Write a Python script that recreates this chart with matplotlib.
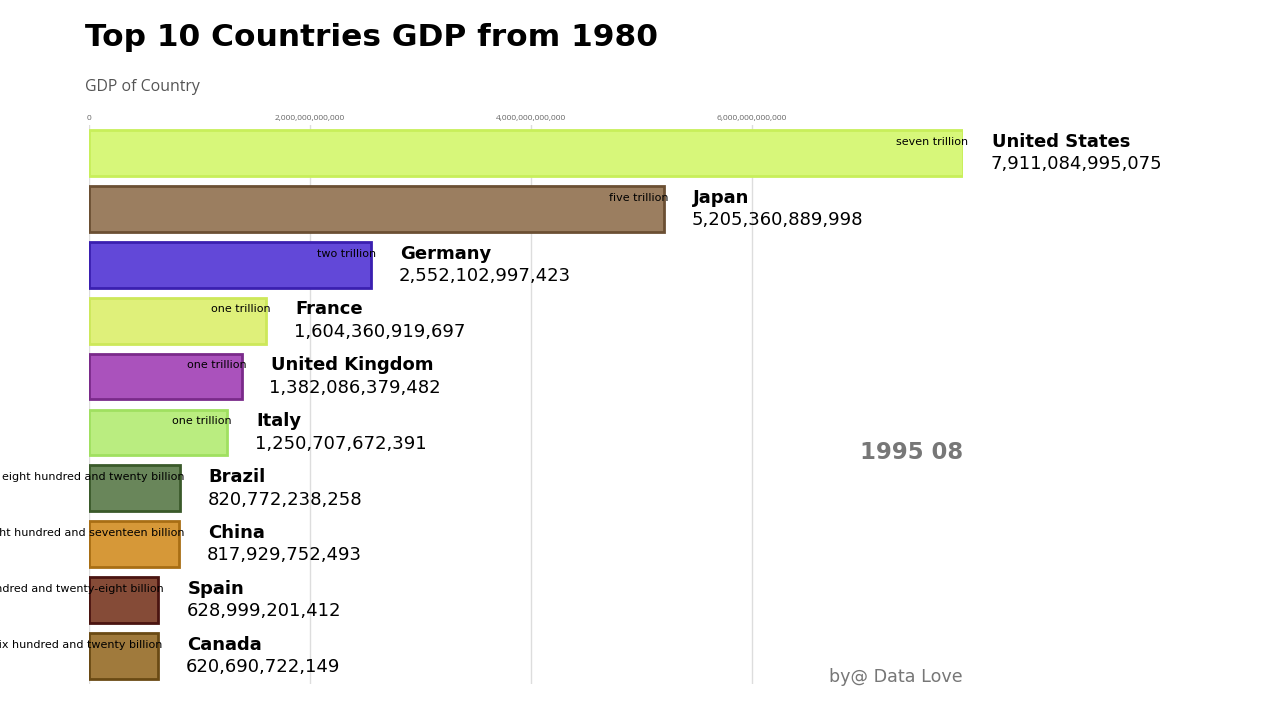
import matplotlib
matplotlib.use('Agg')
import matplotlib.pyplot as plt
import matplotlib.ticker as ticker

# data for the 1995 08 frame
countries = ['United States', 'Japan', 'Germany', 'France', 'United Kingdom',
             'Italy', 'Brazil', 'China', 'Spain', 'Canada']
gdp = [7911084995075, 5205360889998, 2552102997423, 1604360919697, 1382086379482,
       1250707672391, 820772238258, 817929752493, 628999201412, 620690722149]
words = ['seven trillion', 'five trillion', 'two trillion', 'one trillion', 'one trillion',
         'one trillion', 'eight hundred and twenty billion', 'eight hundred and seventeen billion',
         'six hundred and twenty-eight billion', 'six hundred and twenty billion']
fill_colors = ['#d7f77a', '#9b7e60', '#6248d8', '#dff07a', '#aa52bc',
               '#baed80', '#69865a', '#d69838', '#854b37', '#a07a3c']
edge_colors = ['#c8ef5a', '#6b4f33', '#3a1fb0', '#cde85a', '#7a2a8a',
               '#a0e060', '#3a5a2a', '#a86e14', '#4a1410', '#6a4a14']
date_label = '1995 08'
grid_ticks = [0, 2e12, 4e12, 6e12]

fig = plt.figure(figsize=(12.8, 7.2), dpi=100)
ax = fig.add_axes([89 / 1280, 1 - 684 / 720, (963 - 89) / 1280, (684 - 125) / 720])

ypos = list(range(len(countries)))
ax.barh(ypos, gdp, height=0.82, color=fill_colors, edgecolor=edge_colors,
        linewidth=2, zorder=2)
ax.set_xlim(0, max(gdp))
ax.set_ylim(len(countries) - 0.5, -0.5)

for i, (name, val, w) in enumerate(zip(countries, gdp, words)):
    ax.annotate(name, (val, i - 0.2), xytext=(21, 0), textcoords='offset points',
                ha='left', va='center', fontsize=13, fontweight='bold')
    ax.annotate(f'{val:,}', (val, i + 0.2), xytext=(20, 0), textcoords='offset points',
                ha='left', va='center', fontsize=13)
    # word label sits just past the end of the bar (left part may run off the figure)
    ax.annotate(w, (val, i - 0.2), xytext=(3.5, 0), textcoords='offset points',
                ha='right', va='center', fontsize=8, zorder=3)

ax.xaxis.set_ticks_position('top')
ax.set_xticks(grid_ticks)
ax.xaxis.set_major_formatter(ticker.StrMethodFormatter('{x:,.0f}'))
ax.tick_params(axis='x', length=0, labelsize=6, colors='#666666', pad=2)
for lbl in ax.get_xticklabels():
    lbl.set_family('Open Sans')
ax.set_yticks([])
ax.grid(axis='x', color='#dddddd', linewidth=1, zorder=0)
ax.set_axisbelow(True)
for s in ax.spines.values():
    s.set_visible(False)

ax.text(1, 0.415, date_label, transform=ax.transAxes, ha='right', va='center',
        fontsize=16.4, fontweight='bold', color='#777777')
ax.text(1, 0.012, 'by@ Data Love', transform=ax.transAxes, ha='right', va='center',
        fontsize=12.6, color='#777777')

fig.text(85 / 1280, 1 - 38 / 720, 'Top 10 Countries GDP from 1980', ha='left', va='center',
         fontsize=22.5, fontweight='bold')
fig.text(85 / 1280, 1 - 87 / 720, 'GDP of Country', ha='left', va='center',
         fontsize=11.4, color='#555555', family='Open Sans')

fig.savefig('out.png', dpi=100)
